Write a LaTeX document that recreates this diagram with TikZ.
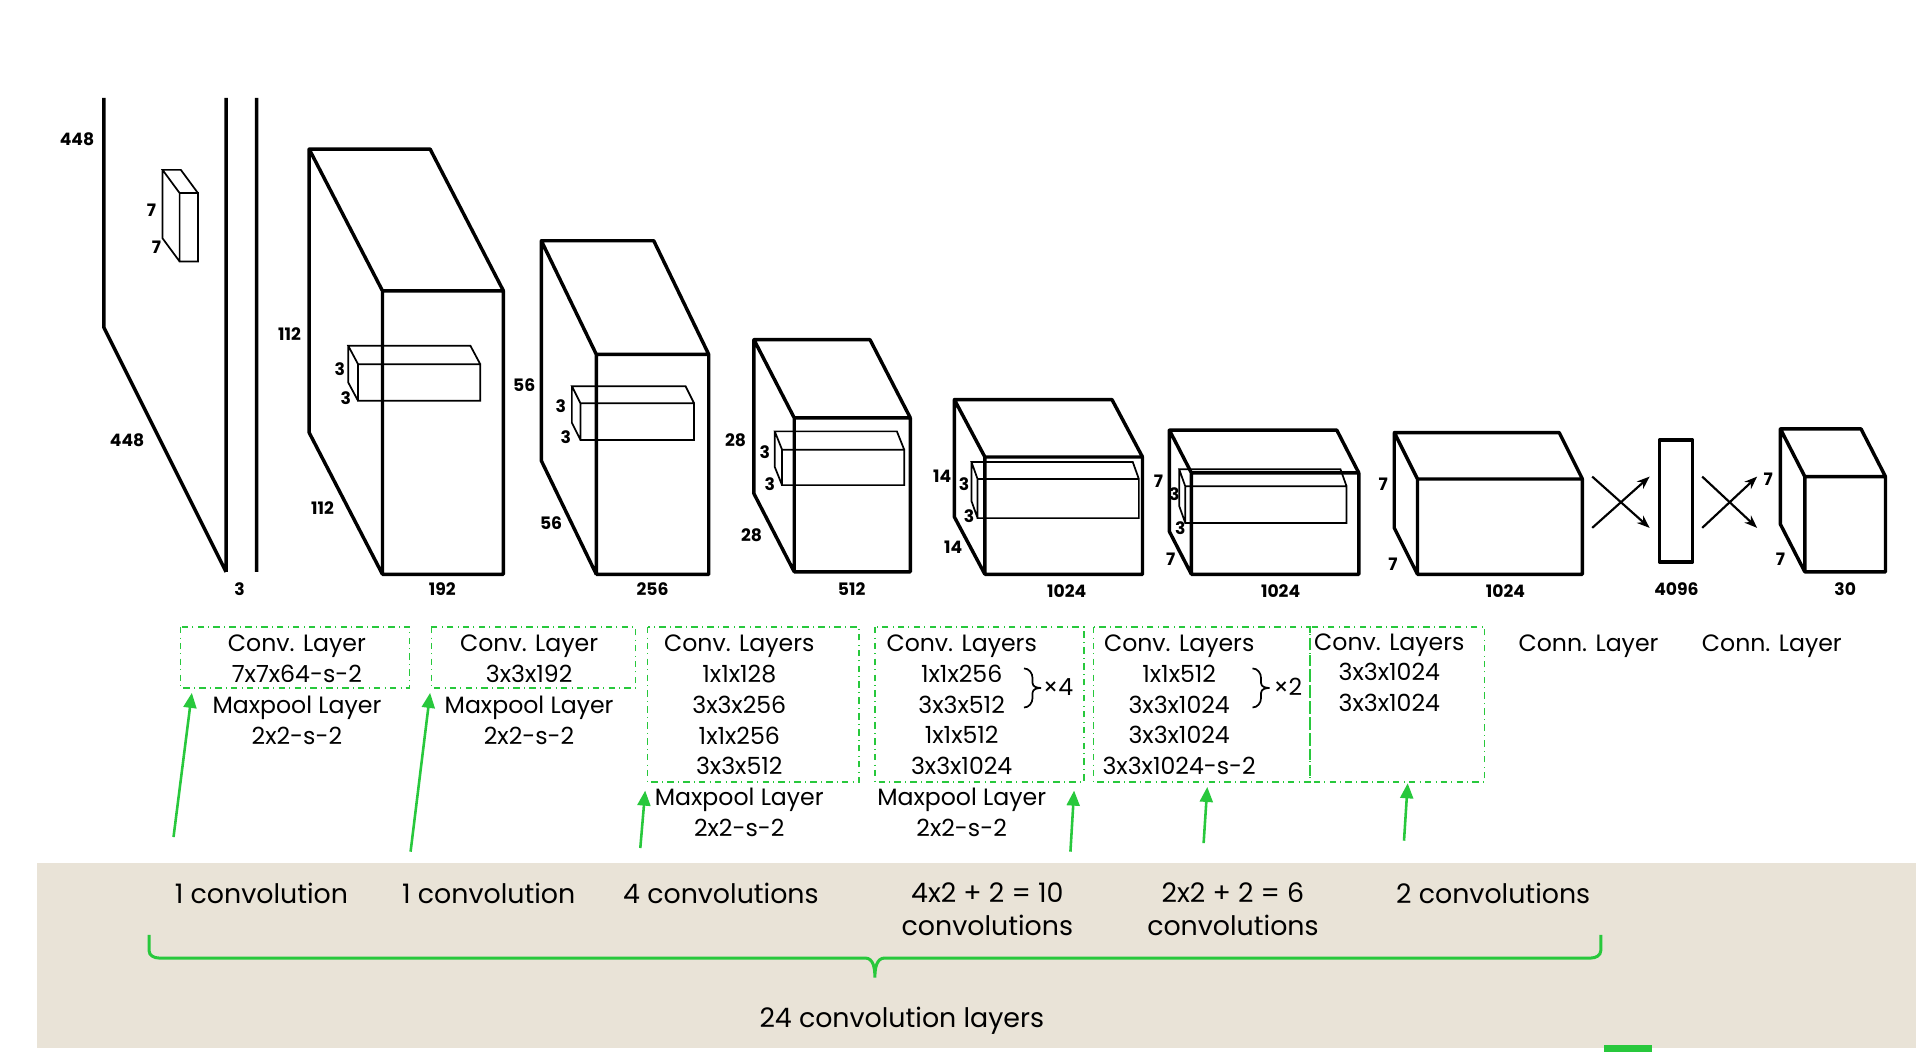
\documentclass[tikz,border=0pt]{standalone}
\usepackage{fontspec}
\setmainfont{Poppins}
\usetikzlibrary{decorations.pathreplacing,arrows.meta}
\definecolor{gr}{RGB}{40,200,60}
\definecolor{beige}{RGB}{233,227,215}
\tikzset{
 cube/.style={line width=1.6pt,line join=round},
 ker/.style={line width=0.8pt},
 dim/.style={font=\fontsize{8}{9}\selectfont\bfseries,inner sep=1pt},
 lab/.style={font=\fontsize{11}{14.4}\selectfont,align=center,inner sep=0pt},
 blab/.style={font=\fontsize{12.5}{15.5}\selectfont,align=center,inner sep=0pt},
 gbox/.style={draw=gr,dash dot,line width=0.6pt},
 garr/.style={draw=gr,line width=1.2pt,-{Triangle[length=7pt,width=6pt]}}
}
\newcommand{\cub}[7]{%
 \draw[#7] (#1,-#2) rectangle (#3,-#4)
  (#1,-#2) -- ({#1-#5},{-#2+#6}) -- ({#3-#5},{-#2+#6}) -- (#3,-#2)
  ({#1-#5},{-#2+#6}) -- ({#1-#5},{-#4+#6}) -- (#1,-#4);}
\begin{document}
\begin{tikzpicture}[x=0.02cm,y=0.02cm]
\useasboundingbox (0,0) rectangle (1568,-870);
\fill[beige] (30,-706) rectangle (1568,-858);
% input slab
\draw[cube] (85,-80) -- (85,-268) -- (185,-468) (185,-80) -- (185,-468) (210,-80) -- (210,-468);
\cub{147}{158}{162}{214}{14}{19}{ker}
\node[dim] at (63,-114) {448};
\node[dim] at (104,-360) {448};
\node[dim] at (196,-482) {3};
\node[dim] at (124,-172) {7};
\node[dim] at (128,-202) {7};
% box 2
\cub{313}{238}{412}{470}{60}{116}{cube}
\cub{293}{298}{393}{328}{8}{15}{ker}
\node[dim] at (237,-273) {112};
\node[dim] at (264,-416) {112};
\node[dim] at (362,-482) {192};
\node[dim] at (278,-302) {3};
\node[dim] at (283,-326) {3};
% box 3
\cub{488}{290}{580}{470}{45}{93}{cube}
\cub{475}{330}{568}{360}{7}{14}{ker}
\node[dim] at (429,-315) {56};
\node[dim] at (451,-428) {56};
\node[dim] at (534,-482) {256};
\node[dim] at (459,-332) {3};
\node[dim] at (463,-358) {3};
% box 4
\cub{650}{342}{745}{468}{33}{64}{cube}
\cub{640}{368}{740}{397}{6}{15}{ker}
\node[dim] at (602,-360) {28};
\node[dim] at (615,-438) {28};
\node[dim] at (697,-482) {512};
\node[dim] at (626,-370) {3};
\node[dim] at (630,-396) {3};
% box 5
\cub{806}{374}{935}{470}{25}{47}{cube}
\cub{800}{392}{932}{424}{5}{14}{ker}
\node[dim] at (771,-390) {14};
\node[dim] at (780,-448) {14};
\node[dim] at (873,-484) {1024};
\node[dim] at (789,-396) {3};
\node[dim] at (793,-422) {3};
% box 6
\cub{975}{387}{1112}{470}{18}{35}{cube}
\cub{970}{398}{1102}{428}{5}{14}{ker}
\node[dim] at (948,-394) {7};
\node[dim] at (958,-458) {7};
\node[dim] at (1048,-484) {1024};
\node[dim] at (961,-404) {3};
\node[dim] at (966,-432) {3};
% box 7
\cub{1160}{392}{1295}{470}{19}{38}{cube}
\node[dim] at (1132,-396) {7};
\node[dim] at (1140,-462) {7};
\node[dim] at (1232,-484) {1024};
% crosses
\draw[line width=1pt,-{Stealth[length=6pt]}] (1303,-390) -- (1350,-432);
\draw[line width=1pt,-{Stealth[length=6pt]}] (1303,-432) -- (1350,-390);
\draw[cube] (1358,-360) rectangle (1385,-460);
\node[dim] at (1372,-482) {4096};
\draw[line width=1pt,-{Stealth[length=6pt]}] (1393,-390) -- (1438,-432);
\draw[line width=1pt,-{Stealth[length=6pt]}] (1393,-432) -- (1438,-390);
% last
\cub{1477}{390}{1543}{468}{20}{39}{cube}
\node[dim] at (1447,-392) {7};
\node[dim] at (1457,-458) {7};
\node[dim] at (1510,-482) {30};
% green boxes
\draw[gbox] (148,-513) rectangle (335,-563);
\draw[gbox] (353,-513) rectangle (520,-563);
\draw[gbox] (530,-513) rectangle (703,-640);
\draw[gbox] (716,-513) rectangle (887,-640);
\draw[gbox] (895,-513) rectangle (1072,-640);
\draw[gbox] (1072,-513) rectangle (1215,-640);
% texts
\node[lab,anchor=north] (t1) at (243,-519) {Conv. Layer\\7x7x64-s-2\\Maxpool Layer\\2x2-s-2};
\node[lab,anchor=north] (t2) at (433,-519) {Conv. Layer\\3x3x192\\Maxpool Layer\\2x2-s-2};
\node[lab,anchor=north] (t3) at (605,-519) {Conv. Layers\\1x1x128\\3x3x256\\1x1x256\\3x3x512\\Maxpool Layer\\2x2-s-2};
\node[lab,anchor=north] (t4a) at (787,-519) {Conv. Layers};
\node[lab,anchor=north] (t4b) at (787,-544) {1x1x256\\3x3x512};
\draw[line width=0.8pt] (838,-547) to[out=0,in=90] (845,-555) -- (845,-559) to[out=-90,in=180] (852,-563) to[out=180,in=90] (845,-567) -- (845,-571) to[out=-90,in=0] (838,-579);
\node[lab] at (866,-562) {×4};
\node[lab,anchor=north] (t4c) at (787,-594) {1x1x512\\3x3x1024\\Maxpool Layer\\2x2-s-2};
\node[lab,anchor=north] (t5a) at (965,-519) {Conv. Layers};
\node[lab,anchor=north] (t5b) at (965,-544) {1x1x512\\3x3x1024};
\draw[line width=0.8pt] (1025,-547) to[out=0,in=90] (1032,-555) -- (1032,-559) to[out=-90,in=180] (1039,-563) to[out=180,in=90] (1032,-567) -- (1032,-571) to[out=-90,in=0] (1025,-579);
\node[lab] at (1054,-562) {×2};
\node[lab,anchor=north] (t5c) at (965,-594) {3x3x1024\\3x3x1024-s-2};
\node[lab,anchor=north] (t6) at (1137,-518) {Conv. Layers\\3x3x1024\\3x3x1024};
\node[lab,anchor=north] (t7) at (1300,-519) {Conn. Layer};
\node[lab,anchor=north] (t8) at (1450,-519) {Conn. Layer};
% green arrows
\coordinate (a1) at (142,-685); \coordinate (b1) at (157,-567);
\coordinate (a2) at (336,-697); \coordinate (b2) at (352,-567);
\coordinate (a3) at (524,-694); \coordinate (b3) at (528,-647);
\coordinate (a4) at (876,-697); \coordinate (b4) at (879,-647);
\coordinate (a5) at (985,-690); \coordinate (b5) at (988,-644);
\coordinate (a6) at (1149,-688); \coordinate (b6) at (1152,-641);
\foreach \i in {1,...,6} \draw[garr] (a\i) -- (b\i);
% bottom labels
\node[blab,anchor=north] at (214,-722) {1 convolution};
\node[blab,anchor=north] at (400,-722) {1 convolution};
\node[blab,anchor=north] at (590,-722) {4 convolutions};
\node[blab,anchor=north] at (808,-722) {4x2 + 2 = 10\\convolutions};
\node[blab,anchor=north] at (1009,-722) {2x2 + 2 = 6\\convolutions};
\node[blab,anchor=north] at (1222,-722) {2 convolutions};
\draw[gr,line width=1.4pt] (122,-765) -- (122,-778) to[out=-90,in=180] (130,-784) -- (708,-784) to[out=0,in=90] (716,-800) to[out=90,in=180] (724,-784) -- (1302,-784) to[out=0,in=-90] (1310,-778) -- (1310,-765);
\node[blab,anchor=north] at (738,-824) {24 convolution layers};
\draw[gr,line width=3pt] (1313,-858) -- (1352,-858);
\end{tikzpicture}
\end{document}
